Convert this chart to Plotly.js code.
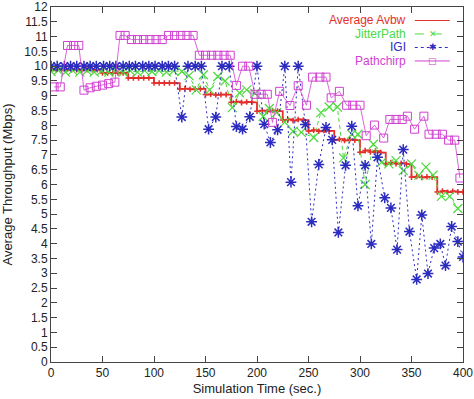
<!DOCTYPE html>
<html><head><meta charset="utf-8">
<script src="https://cdn.plot.ly/plotly-3.0.1.min.js"></script>
<style>html,body{margin:0;padding:0;background:#fff;}#chart{width:474px;height:399px;}</style>
</head><body><div id="chart"></div>
<script>
// ---- data ----
const seriesNames = ["Average Avbw", "JitterPath", "IGI", "Pathchirp"];

const avbwX = [0,5,10,15,20,25,30,35,40,45,50,55,60,65,70,75,80,85,90,95,100,105,110,115,120,125,130,135,140,145,150,155,160,165,170,175,180,185,190,195,200,205,210,215,220,225,230,235,240,245,250,255,260,265,270,275,280,285,290,295,300,305,310,315,320,325,330,335,340,345,350,355,360,365,370,375,380,385,390,395,400];
const avbwY = [9.88,9.88,9.88,9.88,9.88,9.88,9.88,9.88,9.88,9.88,9.77,9.77,9.77,9.77,9.77,9.6,9.6,9.6,9.6,9.6,9.43,9.43,9.43,9.43,9.43,9.23,9.24,9.22,9.23,9.23,9.04,9.05,9.03,9.04,9.04,8.78,8.8,8.77,8.79,8.78,8.48,8.5,8.47,8.5,8.48,8.18,8.2,8.16,8.2,8.18,7.81,7.84,7.8,7.83,7.81,7.51,7.53,7.49,7.52,7.5,7.09,7.15,7.1,7.13,7.08,6.7,6.74,6.7,6.72,6.69,6.25,6.27,6.24,6.26,6.25,5.75,5.78,5.74,5.77,5.75,5.75];

const jitterX = [0,7,14,21,28,35,42,49,56,63,70,77,84,91,98,105,112,119,127,134,141,148,154,162,169,176,183,190,198,206,212,219,227,235,243,255,262,270,278,284,292,298,305,313,321,328,335,342,350,357,364,371,379,387,395];
const jitterY = [9.82,9.86,9.8,9.86,9.8,9.85,9.8,9.84,9.8,9.86,9.8,9.84,9.8,9.85,9.82,9.85,9.8,9.84,9.82,9.68,9.2,9.71,9.2,9.65,9.5,8.6,9.1,9.2,9.08,8.3,8.57,8.43,8.11,7.8,7.76,7.59,8.43,8.62,8.62,6.9,7.7,7.7,6.0,7.36,6.75,6.7,6.81,6.47,6.7,6.31,6.59,6.32,5.6,5.6,5.19];

const igiX = [0,6,13,19,25,32,38,44,51,57,63,70,76,82,89,95,101,108,114,120,127,133,140,146,153,160,166,173,180,186,193,200,207,213,220,227,233,240,247,253,260,267,273,279,286,292,298,305,311,317,324,330,336,342,348,355,360,366,372,378,383,389,395,400];
const igiY = [10,10,10,10,10,10,10,10,10,10,10,10,10,10,10,10,10,10,10,10,8.28,10,10,10,7.87,8.28,10,10,7.96,7.87,8.29,10,8.04,7.42,7.85,10,6.08,10,8.03,4.74,6.68,7.93,7.51,4.38,6.65,7.97,5.28,6.65,3.99,6.92,5.55,5.21,3.8,7.18,4.41,2.79,4.97,2.99,3.85,3.99,3.26,4.58,4.07,3.55];

const chirpX = [3,9,16,22,27,32,38,44,50,56,62,67,72,78,84,90,96,102,108,114,120,126,132,138,144,150,156,162,168,174,180,186,192,198,204,210,215,222,232,240,248,254,261,267,272,280,287,293,300,306,314,323,329,335,341,346,353,362,367,374,380,386,392,397];
const chirpY = [9.3,9.3,10.7,10.7,10.7,9.19,9.27,9.32,9.36,9.41,9.46,11.04,11.04,10.9,10.9,10.9,10.9,10.9,10.9,11.04,11.04,11.04,11.04,11.04,10.37,10.37,10.37,10.37,10.37,10.37,9.35,10.0,10.0,9.05,9.05,9.05,8.1,9.15,8.67,9.34,8.68,9.63,9.63,9.63,8.93,9.15,8.68,8.68,8.68,7.65,8.01,7.57,8.2,8.2,8.2,8.31,7.87,8.31,7.7,7.7,7.7,7.5,7.5,6.22];

const xTicks = [0,50,100,150,200,250,300,350,400];
const yTicks = [0,0.5,1,1.5,2,2.5,3,3.5,4,4.5,5,5.5,6,6.5,7,7.5,8,8.5,9,9.5,10,10.5,11,11.5,12];
const xTitle = "Simulation Time (sec.)";
const yTitle = "Average Throughput (Mbps)";

// ---- styles ----
const colors = ["#e3302c", "#4cd93c", "#2b2bc0", "#d03fd0"];
const font = "Liberation Sans, Arial, Helvetica, sans-serif";

const traces = [
  {x: avbwX, y: avbwY, name: seriesNames[0], mode: "lines+markers", line: {color: colors[0], width: 1.8, shape: "hv"},
   marker: {symbol: "cross-thin-open", size: 4, line: {color: colors[0], width: 1.5}}},
  {x: jitterX, y: jitterY, name: seriesNames[1], mode: "lines+markers", line: {color: colors[1], width: 1, dash: "4px,3px"},
   marker: {symbol: "x-thin-open", size: 9, line: {color: colors[1], width: 1.2}}},
  {x: igiX, y: igiY, name: seriesNames[2], mode: "lines+markers", line: {color: colors[2], width: 1, dash: "2px,3px"},
   marker: {symbol: "asterisk-open", size: 9, line: {color: colors[2], width: 1.5}}},
  {x: chirpX, y: chirpY, name: seriesNames[3], mode: "lines+markers", line: {color: colors[3], width: 0.8},
   marker: {symbol: "square-open", size: 8, line: {color: colors[3], width: 1}}}
];

// custom gnuplot-style key (text left, sample right)
const keyRows = [0.962, 0.924, 0.886, 0.848];
const keyDash = ["solid", "dash", "dot", "solid"];
const keySym = ["", "\u2715", "\u2731", "\u25A1"];
const annotations = [], shapes = [];
seriesNames.forEach((n, i) => {
  annotations.push({xref: "paper", yref: "paper", x: 0.866, y: keyRows[i], xanchor: "right", yanchor: "middle",
    text: n, showarrow: false, font: {family: font, size: 12, color: colors[i]}});
  shapes.push({type: "line", xref: "paper", yref: "paper", x0: 0.883, x1: 0.968, y0: keyRows[i], y1: keyRows[i],
    line: {color: colors[i], width: 1, dash: keyDash[i]}});
  if (keySym[i]) annotations.push({xref: "paper", yref: "paper", x: 0.926, y: keyRows[i], xanchor: "center", yanchor: "middle",
    text: keySym[i], showarrow: false, font: {family: "DejaVu Sans", size: 9, color: colors[i]}});
});

const axisCommon = {showgrid: false, zeroline: false, showline: true, linecolor: "#444", linewidth: 1,
  ticks: "inside", ticklen: 6, tickcolor: "#444", mirror: "allticks", ticklabeloverflow: "allow",
  tickfont: {family: font, size: 12, color: "#222"}};

const layout = {
  width: 474, height: 399,
  margin: {l: 51, r: 11, t: 7, b: 37},
  paper_bgcolor: "#fff", plot_bgcolor: "#fff",
  showlegend: false,
  xaxis: Object.assign({}, axisCommon, {range: [0, 400], tickvals: xTicks,
    title: {text: xTitle, font: {family: font, size: 13, color: "#222"}, standoff: 4}}),
  yaxis: Object.assign({}, axisCommon, {range: [0, 12.001], tickvals: yTicks,
    title: {text: yTitle, font: {family: font, size: 13, color: "#222"}, standoff: 8}}),
  annotations: annotations,
  shapes: shapes
};

Plotly.newPlot("chart", traces, layout, {staticPlot: true, displayModeBar: false});
</script></body></html>
